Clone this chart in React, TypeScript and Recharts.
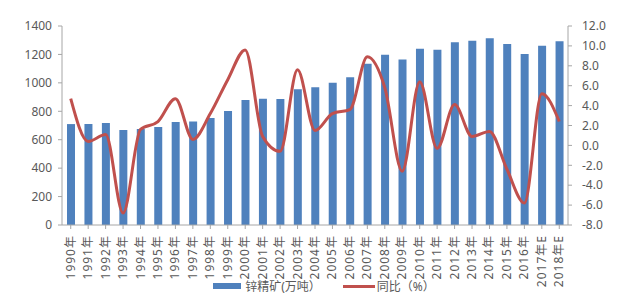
import React from 'react';
import { Bar, ComposedChart, Legend, Line, XAxis, YAxis } from 'recharts';

const years = [
    '1990年', '1991年', '1992年', '1993年', '1994年', '1995年', '1996年', '1997年', '1998年', '1999年',
    '2000年', '2001年', '2002年', '2003年', '2004年', '2005年', '2006年', '2007年', '2008年', '2009年',
    '2010年', '2011年', '2012年', '2013年', '2014年', '2015年', '2016年', '2017年E', '2018年E',
];
// 锌精矿产量（万吨）
const output = [
    710, 711, 718, 668, 675, 690, 724, 729, 753, 802,
    879, 889, 886, 955, 969, 1001, 1039, 1135, 1198, 1165,
    1240, 1233, 1285, 1297, 1313, 1273, 1203, 1261, 1292,
];
// 同比（%）
const yoy = [
    4.7, 0.4, 1.1, -6.8, 1.6, 2.4, 4.7, 0.6, 3.2, 6.6,
    9.6, 0.9, -0.6, 7.6, 1.5, 3.2, 3.6, 8.9, 5.8, -2.6,
    6.4, -0.3, 4.1, 0.9, 1.4, -2.4, -5.8, 5.2, 2.4,
];
const leftTicks = [0, 200, 400, 600, 800, 1000, 1200, 1400];
const rightTicks = [-8, -6, -4, -2, 0, 2, 4, 6, 8, 10, 12];

const data = years.map((year, i) => ({ year, output: output[i], yoy: yoy[i] }));

const FONT = '"Noto Sans", "Noto Sans CJK SC", sans-serif';
const BLUE = '#4F81BD';
const RED = '#C0504D';
const GREY = '#595959';

function YearTick(props: any) {
    const { x, y, payload } = props;
    return (
        <text
            x={x}
            y={y}
            transform={`rotate(-90, ${x}, ${y})`}
            dx={-4}
            dy={4}
            textAnchor="end"
            fontSize={12}
            letterSpacing={1}
            fill={GREY}
            fontFamily={FONT}
        >
            {payload.value}
        </text>
    );
}

function LegendBox() {
    return (
        <div style={{ display: 'flex', justifyContent: 'center', alignItems: 'center', fontFamily: FONT, fontSize: 12, color: GREY, paddingLeft: 8 }}>
            <span style={{ display: 'inline-block', width: 28, height: 6, background: BLUE, marginRight: 4 }} />
            <span style={{ marginRight: 22 }}>锌精矿(万吨）</span>
            <span style={{ display: 'inline-block', width: 32, height: 3, background: RED, marginRight: 2 }} />
            <span>同比（%）</span>
        </div>
    );
}

export default function App() {
    return (
        <div style={{ position: 'absolute', left: 0, top: 0, width: 640, height: 300, background: '#fff' }}>
            <ComposedChart width={640} height={300} data={data} margin={{ top: 26, right: 0, bottom: 0, left: 0 }}>
                <XAxis
                    dataKey="year"
                    interval={0}
                    height={52}
                    tick={<YearTick />}
                    tickLine={{ stroke: '#A6A6A6' }}
                    axisLine={{ stroke: '#A6A6A6' }}
                    tickSize={4}
                />
                <YAxis
                    yAxisId="left"
                    domain={[0, 1400]}
                    ticks={leftTicks}
                    interval={0}
                    width={62}
                    tickSize={4}
                    tickMargin={6}
                    tick={{ fontSize: 12, fill: GREY, fontFamily: FONT }}
                    tickLine={{ stroke: '#A6A6A6' }}
                    axisLine={{ stroke: '#A6A6A6' }}
                />
                <YAxis
                    yAxisId="right"
                    orientation="right"
                    domain={[-8, 12]}
                    ticks={rightTicks}
                    interval={0}
                    width={72}
                    tickSize={4}
                    tickMargin={10}
                    tickFormatter={(v: number) => v.toFixed(1)}
                    tick={{ fontSize: 12, fill: GREY, fontFamily: FONT, textAnchor: 'start' }}
                    tickLine={{ stroke: '#A6A6A6' }}
                    axisLine={{ stroke: '#A6A6A6' }}
                />
                <Legend verticalAlign="bottom" height={23} content={<LegendBox />} />
                <Bar yAxisId="left" dataKey="output" fill={BLUE} barSize={8} isAnimationActive={false} />
                <Line
                    yAxisId="right"
                    type="monotone"
                    dataKey="yoy"
                    stroke={RED}
                    strokeWidth={3}
                    dot={false}
                    isAnimationActive={false}
                />
            </ComposedChart>
        </div>
    );
}
